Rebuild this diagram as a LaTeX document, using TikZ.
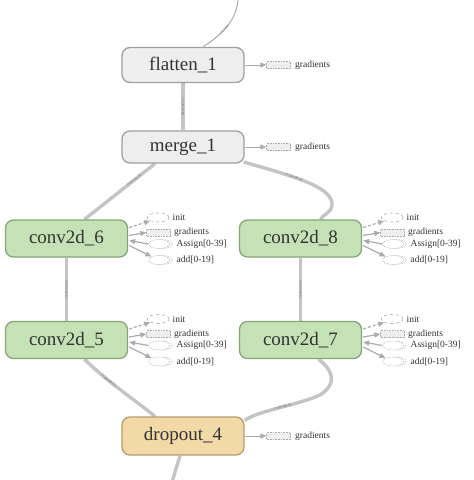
\documentclass[tikz,border=0pt]{standalone}
\usepackage{fontspec}
\setmainfont{Liberation Serif}
\usetikzlibrary{arrows.meta,calc,positioning,backgrounds,shapes.geometric}

\definecolor{opfill}{HTML}{EEEEEE}
\definecolor{opline}{HTML}{A0A0A0}
\definecolor{convfill}{HTML}{C5E2B6}
\definecolor{convline}{HTML}{86A578}
\definecolor{dropfill}{HTML}{F2D9A8}
\definecolor{dropline}{HTML}{B59D6E}
\definecolor{edgegray}{HTML}{C4C4C4}
\definecolor{sidegray}{HTML}{ABABAB}
\definecolor{txtgray}{HTML}{333333}

\tikzset{
  layer/.style={rectangle, rounded corners=8pt, line width=1.3pt,
    minimum width=122pt, minimum height=35pt, inner sep=0pt,
    font=\fontsize{19}{21}\selectfont, text=txtgray},
  plainop/.style={layer, draw=opline, fill=opfill},
  convop/.style={layer, draw=convline, fill=convfill, minimum height=37pt},
  dropop/.style={layer, draw=dropline, fill=dropfill, minimum height=38pt},
  edge/.style={draw=edgegray, line width=3.4pt},
  thinedge/.style={draw=sidegray, line width=1pt},
  shape label/.style={font=\fontsize{3.5}{4}\selectfont, text=black!60, sloped, midway, inner sep=0pt},
  initvar/.style={ellipse, draw=sidegray, dashed, line width=0.6pt,
    minimum width=22pt, minimum height=9pt, inner sep=0pt},
  seqvar/.style={ellipse, draw=sidegray, densely dotted, line width=0.6pt, fill=white,
    minimum width=21pt, minimum height=9pt, inner sep=0pt},
  gradvar/.style={rectangle, draw=sidegray, densely dotted, line width=0.6pt, fill=opfill,
    minimum width=24pt, minimum height=7pt, inner sep=0pt},
  sidetxt/.style={font=\fontsize{9.5}{10}\selectfont, text=txtgray, inner sep=0pt},
  sidearrow/.style={draw=sidegray, line width=1.2pt, -{Triangle[length=6pt,width=5pt]}},
}

\begin{document}
\begin{tikzpicture}[x=1pt, y=-1pt]
  \useasboundingbox (0,0) rectangle (474,480);

  % layers
  \node[plainop] (flatten) at (183,65) {flatten\_1};
  \node[plainop, minimum height=32pt] (merge) at (183,147) {merge\_1};
  \node[convop] (conv6) at (66.5,238.5) {conv2d\_6};
  \node[convop] (conv8) at (300.5,238.5) {conv2d\_8};
  \node[convop] (conv5) at (66.5,340) {conv2d\_5};
  \node[convop] (conv7) at (300.5,340) {conv2d\_7};
  \node[dropop] (drop) at (183,436) {dropout\_4};

  \coordinate (src) at (238,0);
  \coordinate (sink) at (172,482);

  % data edges
  \begin{scope}[on background layer]
    \draw[thinedge] (src) .. controls (236,22) and (220,36) .. ($(flatten.north)+(20,0)$)
      node[shape label, pos=0.55] {?×12544};
    \draw[edge] (flatten) -- (merge)
      node[shape label] {?×14×14×64};
    \draw[edge] ($(merge.south)+(-28,0)$) -- ($(conv6.north)+(18,0)$)
      node[shape label, pos=0.3] {?×14×14×32};
    \draw[edge] ($(merge.east)+(-1,15)$) .. controls (300,178) and (334,188) .. (332,206)
      node[shape label, pos=0.35] {?×14×14×32}
      .. controls (331,213) and (322,215) .. ($(conv8.north)+(20,0)$);
    \draw[edge] (conv6) -- (conv5)
      node[shape label] {?×14×14×32};
    \draw[edge] (conv8) -- (conv7)
      node[shape label] {?×14×14×32};
    \draw[edge] ($(conv5.south)+(18,0)$) .. controls (105,380) and (135,400) .. ($(drop.north)+(-28,0)$)
      node[shape label, pos=0.35] {?×28×28×32};
    \draw[edge] ($(conv7.south)+(18,0)$) .. controls (330,368) and (340,382) .. (320,395)
      .. controls (295,406) and (260,410) .. ($(drop.north east)+(0,4)$)
      node[shape label, pos=0.45] {?×28×28×32};
    \draw[edge] ($(drop.south)+(-3,0)$) -- (sink);
  \end{scope}

  % gradients of the plain layers
  \foreach \l in {flatten,merge,drop}{
    \node[gradvar] (\l-grad) at ($(\l.east)+(34,0)$) {};
    \node[sidetxt, anchor=west] (\l-gradtxt) at ($(\l-grad.east)+(4,0)$) {gradients};
    \draw[sidearrow, line width=1pt] (\l.east) -- (\l-grad.west);
  }

  % variables of the conv layers
  \foreach \c in {conv6,conv8,conv5,conv7}{
    \node[initvar] (\c-init) at ($(\c.east)+(30,-21)$) {};
    \node[gradvar] (\c-grad) at ($(\c.east)+(30.5,-6)$) {};
    \node[seqvar] (\c-assignb) at ($(\c.east)+(33.5,5.5)$) {};
    \node[seqvar] (\c-assign) at ($(\c.east)+(31,5.5)$) {};
    \node[seqvar] (\c-addb) at ($(\c.east)+(33.5,21.5)$) {};
    \node[seqvar] (\c-add) at ($(\c.east)+(31,21.5)$) {};
    \node[sidetxt, anchor=west] (\c-inittxt) at ($(\c-init.east)+(3,0)$) {init};
    \node[sidetxt, anchor=west] (\c-gradtxt) at ($(\c-grad.east)+(3,0)$) {gradients};
    \node[sidetxt, anchor=west] (\c-assigntxt) at ($(\c-assignb.east)+(4,0)$) {Assign[0-39]};
    \node[sidetxt, anchor=west] (\c-addtxt) at ($(\c-addb.east)+(4,0)$) {add[0-19]};
    \draw[sidearrow, densely dashed] ($(\c.east)+(1,-11)$) -- (\c-init.south west);
    \draw[sidearrow] ($(\c.east)+(1,-3)$) -- (\c-grad.west);
    \draw[sidearrow] (\c-assign.west) -- ($(\c.east)+(1,2)$);
    \draw[sidearrow] ($(\c.east)+(1,7)$) -- (\c-add.north west);
  }
\end{tikzpicture}
\end{document}
